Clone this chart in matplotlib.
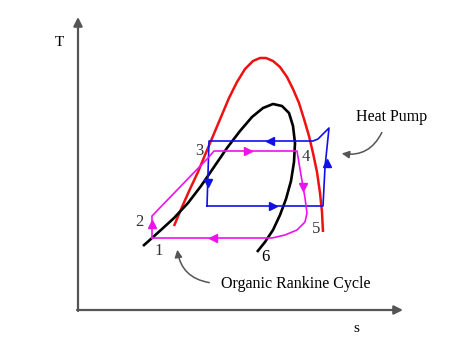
import matplotlib.pyplot as plt
from matplotlib.patches import FancyArrowPatch

# Schematic T-s diagram, coordinates (pixels, y down)
dome_red_x = [174, 182, 190, 198, 205, 213, 221, 229, 237, 245, 253, 260, 266, 273, 280, 287, 293, 299, 304, 309, 313, 317, 320, 322, 323]
dome_red_y = [226, 207, 189, 172, 155, 136, 117, 98, 82, 69, 61, 58, 58, 61, 67, 77, 89, 103, 119, 136, 153, 172, 193, 212, 232]

dome_blk_x = [143, 152, 162, 174, 188, 201, 214, 227, 240, 252, 263, 273, 282, 289, 293, 295, 294, 291, 286, 280, 273, 265, 257]
dome_blk_y = [246, 238, 229, 218, 203, 186, 167, 148, 131, 117, 108, 104, 106, 113, 126, 143, 162, 181, 199, 215, 230, 242, 252]

hp_x = [207, 323, 325, 329, 321, 318, 313, 209, 207]
hp_y = [206, 206, 167, 128, 136, 139, 141, 141, 206]

orc_x = [152, 152, 208, 214, 297, 301, 305, 307, 305, 297, 285, 272, 152]
orc_y = [238, 216, 158, 151, 151, 175, 198, 213, 222, 230, 235, 238, 238]

state_labels = ["1", "2", "3", "4", "5", "6"]
state_x = [159, 139, 199, 306, 316, 265]
state_y = [251, 222, 151, 157, 229, 257]

RED = "#ee1111"
BLUE = "#1010e8"
MAG = "#ee11ee"
GRAY = "#555555"

fig = plt.figure(figsize=(4.74, 3.53), dpi=100)
ax = fig.add_axes([0, 0, 1, 1])
ax.set_xlim(0, 474)
ax.set_ylim(353, 0)
ax.axis("off")

# axes arrows
for xy, xyt in [((78, 17), (78, 311)), ((403, 310), (77, 310))]:
    ax.annotate("", xy=xy, xytext=xyt,
                arrowprops=dict(arrowstyle="-|>", color=GRAY, lw=1.6,
                                mutation_scale=13, shrinkA=0, shrinkB=0))
ax.text(59, 42, "T", fontsize=11, family="Liberation Serif", ha="center", va="center")
ax.text(356, 328, "s", fontsize=11, family="Liberation Serif", ha="center", va="center")

ax.plot(dome_red_x, dome_red_y, color=RED, lw=1.8, solid_capstyle="butt")
ax.plot(dome_blk_x, dome_blk_y, color="black", lw=1.9, solid_capstyle="butt")
ax.plot(hp_x, hp_y, color=BLUE, lw=1.2)
ax.plot(orc_x, orc_y, color=MAG, lw=1.2)

# direction markers
mk = dict(ms=6, ls="none")
ax.plot(270, 141, marker="<", color=BLUE, mec=BLUE, **mk)
ax.plot(273, 206, marker=">", color=BLUE, mec=BLUE, **mk)
ax.plot(208, 183, marker="v", color=BLUE, mec=BLUE, **mk)
ax.plot(327, 163, marker="^", color=BLUE, mec=BLUE, **mk)
ax.plot(248, 151, marker=">", color=MAG, mec=MAG, **mk)
ax.plot(303, 187, marker="v", color=MAG, mec=MAG, **mk)
ax.plot(213, 238, marker="<", color=MAG, mec=MAG, **mk)
ax.plot(152, 224, marker="^", color=MAG, mec=MAG, **mk)

for lab, x, y in zip(state_labels, state_x, state_y):
    ax.text(x, y, lab, fontsize=12, family="Liberation Serif", ha="center", va="center",
            color="#333333" if lab != "6" else "black")

ax.text(392, 117, "Heat Pump", fontsize=11.5, family="Liberation Serif", ha="center", va="center")
ax.text(296, 284, "Organic Rankine Cycle", fontsize=11.5, family="Liberation Serif",
        ha="center", va="center")

ax.add_patch(FancyArrowPatch((383, 130), (339, 153), connectionstyle="arc3,rad=-0.4",
                             arrowstyle="-|>", mutation_scale=11, color=GRAY, lw=1.1))
ax.add_patch(FancyArrowPatch((212, 283), (177, 247), connectionstyle="arc3,rad=-0.4",
                             arrowstyle="-|>", mutation_scale=11, color=GRAY, lw=1.1))

fig.savefig("out.png", dpi=100)
